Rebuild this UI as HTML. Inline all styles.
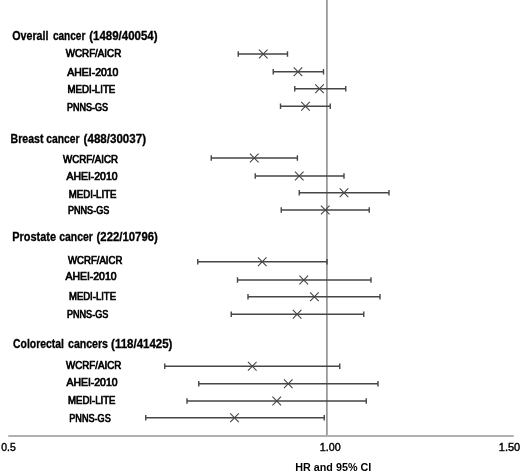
<!DOCTYPE html>
<html lang="en">
<head>
<meta charset="utf-8">
<title>Forest plot: HR and 95% CI</title>
<style>
html,body{margin:0;padding:0;background:#fff;}
body{width:520px;height:473px;overflow:hidden;}
svg{display:block;}
text{font-family:"Liberation Sans",sans-serif;fill:#000;}
.h{font-weight:bold;font-size:12px;stroke:#000;stroke-width:0.3px;}
.l{font-weight:normal;font-size:10.2px;stroke:#000;stroke-width:0.7px;}
.t{font-size:10px;stroke:#000;stroke-width:0.38px;}
.x{font-weight:bold;font-size:11.6px;}
.ci{stroke:#464646;stroke-width:1.4;fill:none;}
.mk{stroke:#444;stroke-width:1.1;fill:none;}
</style>
</head>
<body>
<svg width="520" height="473" viewBox="0 0 520 473">
<rect x="0" y="0" width="520" height="473" fill="#ffffff"/>
<line x1="326.9" y1="0" x2="326.9" y2="436" stroke="#969696" stroke-width="1.7"/>
<line x1="8.25" y1="436" x2="513.75" y2="436" stroke="#b0b0b0" stroke-width="1.8"/>
<text class="h" y="39.5"><tspan x="12.3" textLength="36.20" lengthAdjust="spacingAndGlyphs">Overall</tspan> <tspan x="52.9" textLength="32.50" lengthAdjust="spacingAndGlyphs">cancer</tspan> <tspan x="89.2" textLength="68.30" lengthAdjust="spacingAndGlyphs">(1489/40054)</tspan></text>
<text class="h" y="143.25"><tspan x="10.6" textLength="32.80" lengthAdjust="spacingAndGlyphs">Breast</tspan> <tspan x="46.3" textLength="33.30" lengthAdjust="spacingAndGlyphs">cancer</tspan> <tspan x="83.6" textLength="62.40" lengthAdjust="spacingAndGlyphs">(488/30037)</tspan></text>
<text class="h" y="241.25"><tspan x="12.3" textLength="43.70" lengthAdjust="spacingAndGlyphs">Prostate</tspan> <tspan x="59.2" textLength="33.60" lengthAdjust="spacingAndGlyphs">cancer</tspan> <tspan x="96.6" textLength="61.20" lengthAdjust="spacingAndGlyphs">(222/10796)</tspan></text>
<text class="h" y="347.6"><tspan x="13.1" textLength="50.90" lengthAdjust="spacingAndGlyphs">Colorectal</tspan> <tspan x="68.0" textLength="40.00" lengthAdjust="spacingAndGlyphs">cancers</tspan> <tspan x="111.1" textLength="61.30" lengthAdjust="spacingAndGlyphs">(118/41425)</tspan></text>
<text class="l" x="65.75" y="57" textLength="55.50" lengthAdjust="spacingAndGlyphs">WCRF/AICR</text>
<text class="l" x="67.25" y="76.0" textLength="51.15" lengthAdjust="spacingAndGlyphs">AHEI-2010</text>
<text class="l" x="67.5" y="93" textLength="47.75" lengthAdjust="spacingAndGlyphs">MEDI-LITE</text>
<text class="l" x="67" y="111" textLength="41.00" lengthAdjust="spacingAndGlyphs">PNNS-GS</text>
<text class="l" x="63" y="163" textLength="55.00" lengthAdjust="spacingAndGlyphs">WCRF/AICR</text>
<text class="l" x="66.5" y="180" textLength="51.00" lengthAdjust="spacingAndGlyphs">AHEI-2010</text>
<text class="l" x="68.75" y="198" textLength="47.75" lengthAdjust="spacingAndGlyphs">MEDI-LITE</text>
<text class="l" x="68" y="214" textLength="41.25" lengthAdjust="spacingAndGlyphs">PNNS-GS</text>
<text class="l" x="68" y="264.25" textLength="54.40" lengthAdjust="spacingAndGlyphs">WCRF/AICR</text>
<text class="l" x="65.5" y="280.25" textLength="51.00" lengthAdjust="spacingAndGlyphs">AHEI-2010</text>
<text class="l" x="69" y="300" textLength="47.00" lengthAdjust="spacingAndGlyphs">MEDI-LITE</text>
<text class="l" x="67" y="318" textLength="41.25" lengthAdjust="spacingAndGlyphs">PNNS-GS</text>
<text class="l" x="66" y="369" textLength="55.25" lengthAdjust="spacingAndGlyphs">WCRF/AICR</text>
<text class="l" x="66.5" y="386" textLength="51.00" lengthAdjust="spacingAndGlyphs">AHEI-2010</text>
<text class="l" x="68" y="404" textLength="47.50" lengthAdjust="spacingAndGlyphs">MEDI-LITE</text>
<text class="l" x="69.25" y="422" textLength="41.50" lengthAdjust="spacingAndGlyphs">PNNS-GS</text>
<path class="ci" d="M238.25 54.0H287.5M238.25 51.2V56.8M287.5 51.2V56.8"/><path class="mk" d="M258.95 49.7L267.55 58.3M258.95 58.3L267.55 49.7"/>
<path class="ci" d="M273.25 71.75H323.5M273.25 68.95V74.55M323.5 68.95V74.55"/><path class="mk" d="M293.7 67.45L302.3 76.05M293.7 76.05L302.3 67.45"/>
<path class="ci" d="M294.75 88.75H345.75M294.75 85.95V91.55M345.75 85.95V91.55"/><path class="mk" d="M315.2 84.45L323.8 93.05M315.2 93.05L323.8 84.45"/>
<path class="ci" d="M280.5 106.25H330.25M280.5 103.45V109.05M330.25 103.45V109.05"/><path class="mk" d="M301.2 101.95L309.8 110.55M301.2 110.55L309.8 101.95"/>
<path class="ci" d="M211.25 158.0H297.4M211.25 155.2V160.8M297.4 155.2V160.8"/><path class="mk" d="M249.95 153.7L258.55 162.3M249.95 162.3L258.55 153.7"/>
<path class="ci" d="M255.25 176.0H344.0M255.25 173.2V178.8M344.0 173.2V178.8"/><path class="mk" d="M294.95 171.7L303.55 180.3M294.95 180.3L303.55 171.7"/>
<path class="ci" d="M299.25 192.75H389.0M299.25 189.95V195.55M389.0 189.95V195.55"/><path class="mk" d="M339.7 188.45L348.3 197.05M339.7 197.05L348.3 188.45"/>
<path class="ci" d="M281.25 210.0H369.25M281.25 207.2V212.8M369.25 207.2V212.8"/><path class="mk" d="M320.95 205.7L329.55 214.3M320.95 214.3L329.55 205.7"/>
<path class="ci" d="M197.75 261.75H327.0M197.75 258.95V264.55M327.0 258.95V264.55"/><path class="mk" d="M257.95 257.45L266.55 266.05M257.95 266.05L266.55 257.45"/>
<path class="ci" d="M237.5 280.0H371.0M237.5 277.2V282.8M371.0 277.2V282.8"/><path class="mk" d="M299.45 275.7L308.05 284.3M299.45 284.3L308.05 275.7"/>
<path class="ci" d="M248.0 296.75H380.0M248.0 293.95V299.55M380.0 293.95V299.55"/><path class="mk" d="M310.09999999999997 292.45L318.7 301.05M310.09999999999997 301.05L318.7 292.45"/>
<path class="ci" d="M231.25 314.25H363.75M231.25 311.45V317.05M363.75 311.45V317.05"/><path class="mk" d="M292.8 309.95L301.40000000000003 318.55M292.8 318.55L301.40000000000003 309.95"/>
<path class="ci" d="M164.75 366.25H339.75M164.75 363.45V369.05M339.75 363.45V369.05"/><path class="mk" d="M247.95 361.95L256.55 370.55M247.95 370.55L256.55 361.95"/>
<path class="ci" d="M198.75 383.75H378.0M198.75 380.95V386.55M378.0 380.95V386.55"/><path class="mk" d="M283.95 379.45L292.55 388.05M283.95 388.05L292.55 379.45"/>
<path class="ci" d="M187.0 401.0H366.25M187.0 398.2V403.8M366.25 398.2V403.8"/><path class="mk" d="M272.45 396.7L281.05 405.3M272.45 405.3L281.05 396.7"/>
<path class="ci" d="M145.75 417.75H324.25M145.75 414.95V420.55M324.25 414.95V420.55"/><path class="mk" d="M230.2 413.45L238.8 422.05M230.2 422.05L238.8 413.45"/>
<text class="t" x="1.3" y="450.7" textLength="14.5" lengthAdjust="spacingAndGlyphs">0.5</text>
<text class="t" x="319.8" y="450.75" textLength="20.9" lengthAdjust="spacingAndGlyphs">1.00</text>
<text class="t" x="498.8" y="450.75" textLength="21.4" lengthAdjust="spacingAndGlyphs">1.50</text>
<text class="x" x="295.2" y="471" textLength="76.1" lengthAdjust="spacingAndGlyphs">HR and 95% CI</text>
</svg>
</body>
</html>
